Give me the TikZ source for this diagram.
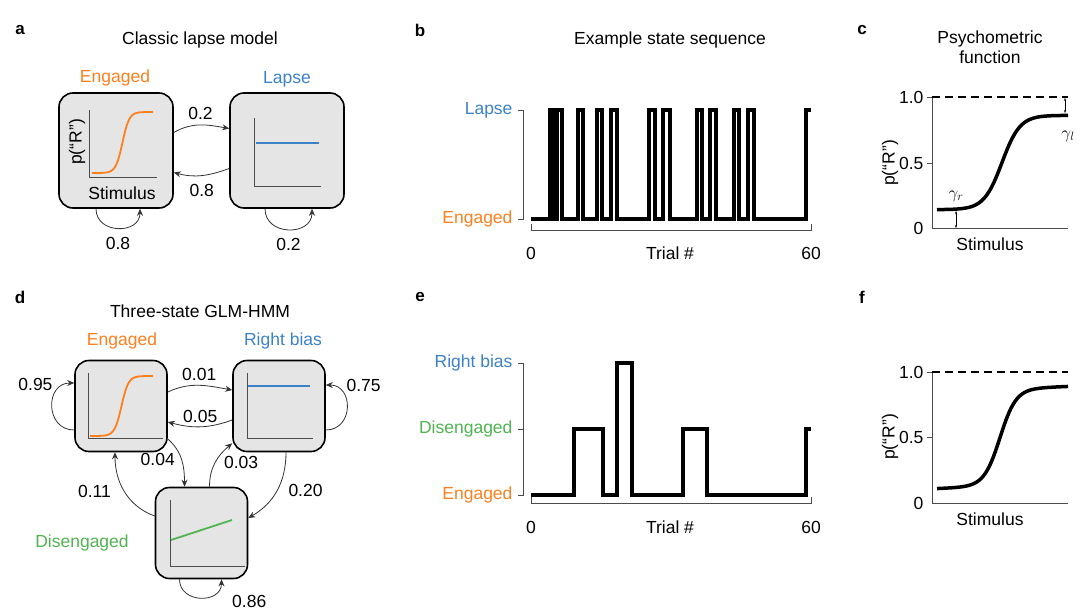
\documentclass[tikz,border=0pt]{standalone}
\usepackage{fontspec}
\setmainfont{Liberation Sans}
\usepackage{xcolor}
\usetikzlibrary{arrows.meta,positioning}
\definecolor{engcol}{RGB}{255,127,30}
\definecolor{lapcol}{RGB}{60,130,200}
\definecolor{discol}{RGB}{80,180,80}
\begin{document}
\begin{tikzpicture}[x=1pt,y=-1pt,
            state/.style={draw, line width=1.6pt, fill=gray!20, rounded corners=14pt, minimum width=114pt, minimum height=115pt},
            smallstate/.style={draw, line width=1.6pt, fill=gray!20, rounded corners=14pt, minimum width=92pt, minimum height=91pt},
            arr/.style={-{Stealth[length=7pt,width=6pt]}, draw=black!80, line width=0.8pt},
            lab/.style={font=\fontsize{17.5}{20}\selectfont},
            letter/.style={font=\fontsize{17}{19}\selectfont\bfseries},
            ax/.style={draw=black!70, line width=1pt},
            seq/.style={line width=3.3pt, line join=miter},
            curve/.style={line width=1.8pt}
        ]
            \useasboundingbox (0,0) rectangle (1080,616);
            % Panel letters and titles
            \node[letter] (la) at (20,30) {a};
            \node[letter] (lb) at (420,30) {b};
            \node[letter] (lc) at (862,30) {c};
            \node[letter] (ld) at (20,297) {d};
            \node[letter] (le) at (420,297) {e};
            \node[letter] (lf) at (862,297) {f};
            \node[lab] (ta) at (200,40) {Classic lapse model};
            \node[lab] (tb) at (670,40) {Example state sequence};
            \node[lab, align=center] (tc) at (990,47) {Psychometric\\function};
            \node[lab] (td) at (200,311) {Three-state GLM-HMM};

            % a - classic lapse model
            \node[state] (engA) at (116,150.5) {};
            \node[state] (lapA) at (287,150.5) {};
            \node[lab, text=engcol] (engAl) at (115,78) {Engaged};
            \node[lab, text=lapcol] (lapAl) at (287,79) {Lapse};
            \draw[ax] (89,110) -- (89,177) -- (157,177);
            \draw[curve, draw=engcol] plot[domain=0:1, samples=60] ({92+61*\x},{173-61/(1+exp(-18*(\x-0.5)))});
            \node[lab, rotate=90] (pra) at (77,142) {p(“R”)};
            \node[lab] (stima) at (122,193) {Stimulus};
            \draw[ax] (254,118) -- (254,186) -- (321,186);
            \draw[curve, draw=lapcol] (256,143) -- (319,143);
            \draw[arr] ([yshift=18pt]engA.east) to[out=30,in=170] node[lab, above=2pt] {0.2} ([yshift=22pt]lapA.west);
            \draw[arr] ([yshift=-18pt]lapA.west) to[out=200,in=-15] node[lab, below=5pt] {0.8} ([yshift=-22pt]engA.east);
            \draw[arr] ([xshift=-20pt]engA.south) to[out=-90,in=-90,looseness=1.5] node[lab, below=5pt] {0.8} ([xshift=24pt]engA.south);
            \draw[arr] ([xshift=-22pt]lapA.south) to[out=-90,in=-90,looseness=1.5] node[lab, below=5pt] {0.2} ([xshift=25pt]lapA.south);

            % b - example state sequence
            \node[lab, text=lapcol, anchor=east] (lapB) at (516,110) {Lapse};
            \node[lab, text=engcol, anchor=east] (engB) at (516,219) {Engaged};
            \draw[ax] (518,110) -- (523,110) -- (523,219) -- (518,219);
            \draw[ax] (531,224) -- (531,230) -- (811,230) -- (811,224);
            \node[lab] (b0) at (531,253) {0};
            \node[lab] (b60) at (811,253) {60};
            \node[lab] (btr) at (670,253) {Trial \#};
            \draw[seq] (531,219) \foreach \a/\b in {550/554,557/562,578/583,597/602,611/617,649/655,663/670,697/702,710/716,734/739,748/754}{ -- (\a,219) -- (\a,110) -- (\b,110) -- (\b,219)} -- (806,219) -- (806,110) -- (811,110);

            % c - psychometric function
            \draw[ax] (927,97) -- (932,97) (927,163) -- (932,163) (932,97) -- (932,228) -- (1068,228);
            \node[lab, anchor=east] (c1) at (927,97) {1.0};
            \node[lab, anchor=east] (c5) at (927,163) {0.5};
            \node[lab, anchor=east] (c0) at (927,228) {0};
            \node[lab, rotate=90] (prc) at (890,163) {p(“R”)};
            \node[lab] (stimc) at (990,244) {Stimulus};
            \draw[line width=1.3pt, dash pattern=on 8pt off 5pt] (932,97) -- (1068,97);
            \draw[line width=3.5pt] plot[domain=937:1068, samples=90] (\x,{228-131*(0.14+0.72/(1+exp(-(\x-1002)/9)))});
            \draw[{Stealth[length=3pt]}-{Stealth[length=3pt]}, line width=0.9pt] (956,211) -- (956,228);
            \draw[{Stealth[length=3pt]}-{Stealth[length=3pt]}, line width=0.9pt] (1065,98) -- (1065,113);
            \node[lab] (gr) at (956,196) {$\gamma_r$};
            \node[lab] (gl) at (1068,136) {$\gamma_l$};

            % d - three-state GLM-HMM
            \node[smallstate] (engD) at (121,406) {};
            \node[smallstate] (rbD) at (279,406) {};
            \node[smallstate] (disD) at (201.5,533) {};
            \node[lab, text=engcol] (engDl) at (122,341) {Engaged};
            \node[lab, text=lapcol] (rbDl) at (283,341) {Right bias};
            \node[lab, text=discol] (disDl) at (82,543) {Disengaged};
            \draw[ax] (88,373) -- (88,438) -- (163,438);
            \draw[curve, draw=engcol] plot[domain=0:1, samples=60] ({90+63*\x},{436-60/(1+exp(-18*(\x-0.5)))});
            \draw[ax] (247,373) -- (247,438) -- (313,438);
            \draw[curve, draw=lapcol] (248,386) -- (310,386);
            \draw[ax] (170,500) -- (170,566) -- (245,566);
            \draw[curve, draw=discol] (171,540) -- (232,520);
            \draw[arr] ([yshift=14pt]engD.east) to[out=25,in=170] node[lab, above=1pt] {0.01} ([yshift=16pt]rbD.west);
            \draw[arr] ([yshift=-14pt]rbD.west) to[out=200,in=-15] node[lab, above=0pt] {0.05} ([yshift=-16pt]engD.east);
            \draw[arr] ([yshift=-24pt]engD.west) to[out=180,in=180,looseness=1.6] node[lab, above left=12pt and -4pt] {0.95} ([yshift=23pt]engD.west);
            \draw[arr] ([yshift=-24pt]rbD.east) to[out=0,in=0,looseness=1.6] node[lab, above right=12pt and -4pt] {0.75} ([yshift=21pt]rbD.east);
            \draw[arr] ([xshift=46pt,yshift=14pt]engD.south) to[out=-40,in=90] node[lab, left=3pt] {0.04} ([xshift=-17pt]disD.north);
            \draw[arr] ([xshift=8pt]disD.north) to[out=90,in=-140] node[lab, right=5pt] {0.03} ([yshift=9pt]rbD.south west);
            \draw[arr] ([xshift=7pt]rbD.south) to[out=-90,in=30] node[lab, right=8pt] {0.20} ([yshift=15pt]disD.east);
            \draw[arr] ([yshift=17pt]disD.west) to[out=160,in=-90] node[lab, left=10pt] {0.11} ([xshift=-6pt]engD.south);
            \draw[arr] ([xshift=-22pt]disD.south) to[out=-90,in=-90,looseness=1.5] node[lab, below right=-6pt and 28pt] {0.86} ([xshift=20pt]disD.south);

            % e - GLM-HMM state sequence
            \node[lab, text=lapcol, anchor=east] (rbE) at (516,363) {Right bias};
            \node[lab, text=discol, anchor=east] (disE) at (516,429) {Disengaged};
            \node[lab, text=engcol, anchor=east] (engE) at (516,495) {Engaged};
            \draw[ax] (518,363) -- (523,363) -- (523,495) -- (518,495) (518,429) -- (523,429);
            \draw[ax] (531,497) -- (531,503) -- (811,503) -- (811,497);
            \node[lab] (e0) at (531,527) {0};
            \node[lab] (e60) at (811,527) {60};
            \node[lab] (etr) at (670,527) {Trial \#};
            \draw[seq] (531,495) -- (574,495) -- (574,429) -- (603,429) -- (603,495) -- (617,495) -- (617,363) -- (632,363) -- (632,495) -- (683,495) -- (683,429) -- (707,429) -- (707,495) -- (806,495) -- (806,429) -- (811,429);

            % f - GLM-HMM psychometric function
            \draw[ax] (927,372) -- (932,372) (927,437) -- (932,437) (932,372) -- (932,503) -- (1068,503);
            \node[lab, anchor=east] (f1) at (927,372) {1.0};
            \node[lab, anchor=east] (f5) at (927,437) {0.5};
            \node[lab, anchor=east] (f0) at (927,503) {0};
            \node[lab, rotate=90] (prf) at (890,437) {p(“R”)};
            \node[lab] (stimf) at (990,519) {Stimulus};
            \draw[line width=1.3pt, dash pattern=on 8pt off 5pt] (932,372) -- (1068,372);
            \draw[line width=3.5pt] plot[domain=937:1068, samples=90] (\x,{503-131*(0.11+0.0003*(\x-937)+0.74/(1+exp(-(\x-1000)/8)))});
        \end{tikzpicture}
\end{document}
